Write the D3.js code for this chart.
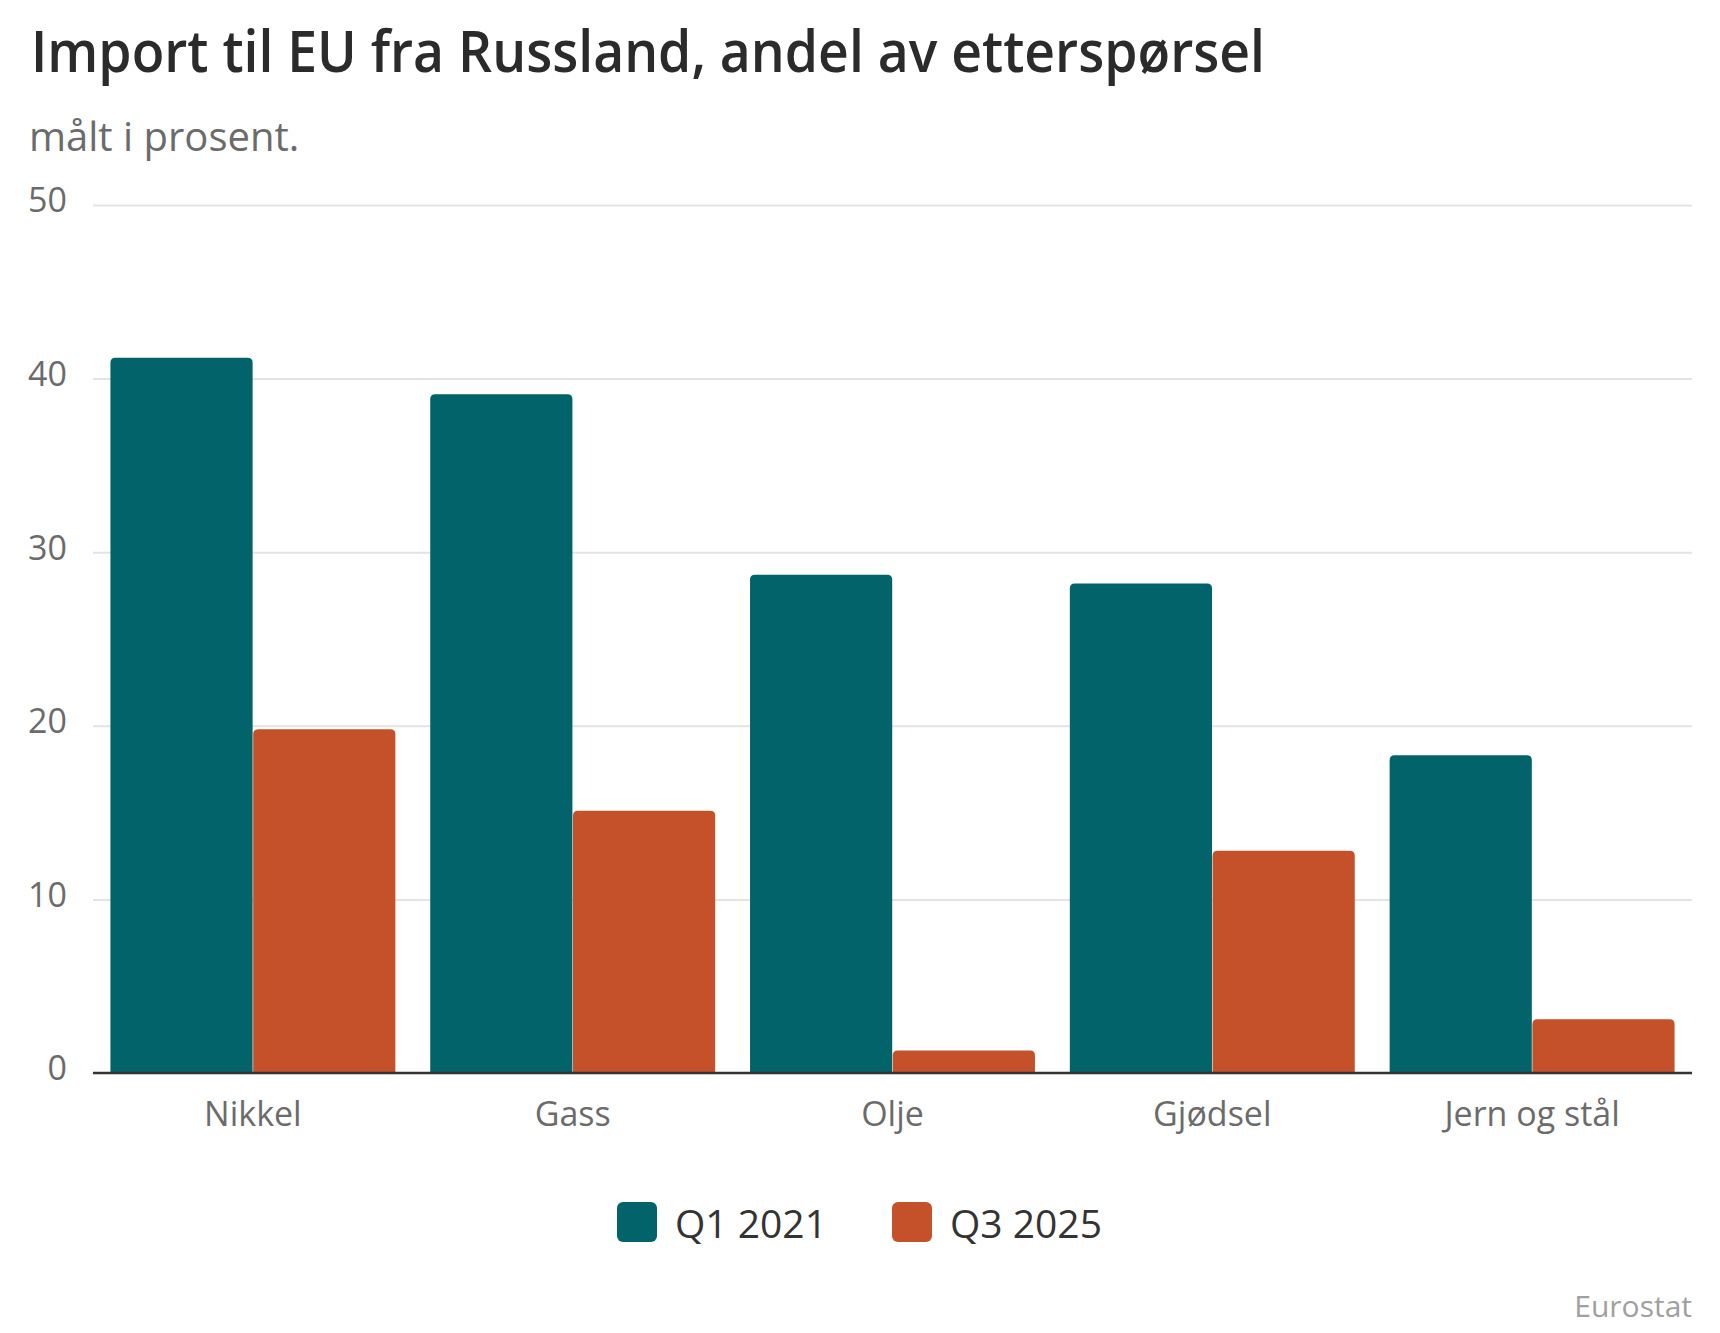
<!doctype html>
<html lang="no">
<head>
  <meta charset="utf-8">
  <style>
    body { margin: 0; background: #fff; }
    svg { display: block; font-family: "Open Sans", sans-serif; }
    .title { font-size: 58px; font-weight: 600; fill: #2b2b2b; }
    .subtitle { font-size: 40px; fill: #6b6b6b; }
    .tick-label { font-size: 34px; fill: #6b6b6b; }
    .legend-label { font-size: 39px; fill: #333; }
    .source { font-size: 30px; fill: #a0a0a0; }
  </style>
  <script src="https://d3js.org/d3.v7.min.js"></script>
</head>
<body>
  <script>
    const categories = ["Nikkel", "Gass", "Olje", "Gjødsel", "Jern og stål"];
    const seriesNames = ["Q1 2021", "Q3 2025"];
    const q1_2021 = [41.2, 39.1, 28.7, 28.2, 18.3];
    const q3_2025 = [19.8, 15.1, 1.3, 12.8, 3.1];
    const yTicks = [0, 10, 20, 30, 40, 50];
    const colors = ["#02636b", "#c4512a"];

    const W = 1720, H = 1333;
    const plotLeft = 93, plotRight = 1692, plotTop = 205, plotBottom = 1073;

    const data = categories.map((c, i) => ({
      cat: c,
      values: [
        { key: seriesNames[0], v: q1_2021[i] },
        { key: seriesNames[1], v: q3_2025[i] }
      ]
    }));

    const svg = d3.select("body").append("svg")
      .attr("width", W)
      .attr("height", H);

    // the original title is set a bit narrower than Open Sans
    svg.append("text").attr("class", "title")
      .attr("x", 31).attr("y", 72)
      .attr("textLength", 1234)
      .attr("lengthAdjust", "spacingAndGlyphs")
      .text("Import til EU fra Russland, andel av etterspørsel");

    svg.append("text").attr("class", "subtitle")
      .attr("x", 29).attr("y", 151)
      .text("målt i prosent.");

    const x0 = d3.scaleBand()
      .domain(categories)
      .range([plotLeft, plotRight])
      .paddingInner(0.109)
      .paddingOuter(0.0545);

    const x1 = d3.scaleBand()
      .domain(seriesNames)
      .range([0, x0.bandwidth()])
      .paddingInner(0.004);

    const y = d3.scaleLinear()
      .domain([0, 50])
      .range([plotBottom, plotTop]);

    const color = d3.scaleOrdinal().domain(seriesNames).range(colors);

    // grid + y labels
    const yAxis = svg.append("g")
      .attr("transform", `translate(${plotLeft},0)`)
      .call(d3.axisLeft(y).tickValues(yTicks).tickSize(-(plotRight - plotLeft)).tickPadding(26));
    yAxis.select(".domain").remove();
    yAxis.selectAll(".tick line").attr("stroke", "#e3e3e3").attr("stroke-width", 2);
    yAxis.selectAll(".tick text")
      .attr("class", "tick-label")
      .attr("dy", "0.2em");
    yAxis.attr("font-family", null).attr("font-size", null);
    yAxis.selectAll(".tick").filter(d => d === 0).select("line").remove();

    // bars with rounded tops
    function barPath(x, yTop, w, h, r) {
      r = Math.min(r, h, w / 2);
      return `M${x},${yTop + h}V${yTop + r}Q${x},${yTop} ${x + r},${yTop}` +
        `H${x + w - r}Q${x + w},${yTop} ${x + w},${yTop + r}V${yTop + h}Z`;
    }

    const groups = svg.append("g").selectAll("g")
      .data(data)
      .join("g")
      .attr("transform", d => `translate(${x0(d.cat)},0)`);

    groups.selectAll("path")
      .data(d => d.values)
      .join("path")
      .attr("fill", d => color(d.key))
      .attr("d", d => barPath(x1(d.key), y(d.v), x1.bandwidth(), y(0) - y(d.v), 5));

    // baseline + x labels
    const xAxis = svg.append("g")
      .attr("transform", `translate(0,${plotBottom})`)
      .call(d3.axisBottom(x0).tickSize(0).tickPadding(29));
    xAxis.attr("font-family", null).attr("font-size", null);
    xAxis.select(".domain")
      .attr("stroke", "#333").attr("stroke-width", 2.5)
      .attr("d", `M${plotLeft},0H${plotRight}`);
    xAxis.selectAll(".tick text")
      .attr("class", "tick-label");

    // legend
    const legendItems = [
      { key: seriesNames[0], x: 617 },
      { key: seriesNames[1], x: 892 }
    ];
    const legend = svg.append("g").selectAll("g")
      .data(legendItems)
      .join("g")
      .attr("transform", d => `translate(${d.x},1202)`);
    legend.append("rect")
      .attr("width", 40).attr("height", 40).attr("rx", 6)
      .attr("fill", d => color(d.key));
    legend.append("text")
      .attr("class", "legend-label")
      .attr("x", 58).attr("y", 36)
      .text(d => d.key);

    svg.append("text").attr("class", "source")
      .attr("x", plotRight).attr("y", 1317)
      .attr("text-anchor", "end")
      .text("Eurostat");
  </script>
</body>
</html>
